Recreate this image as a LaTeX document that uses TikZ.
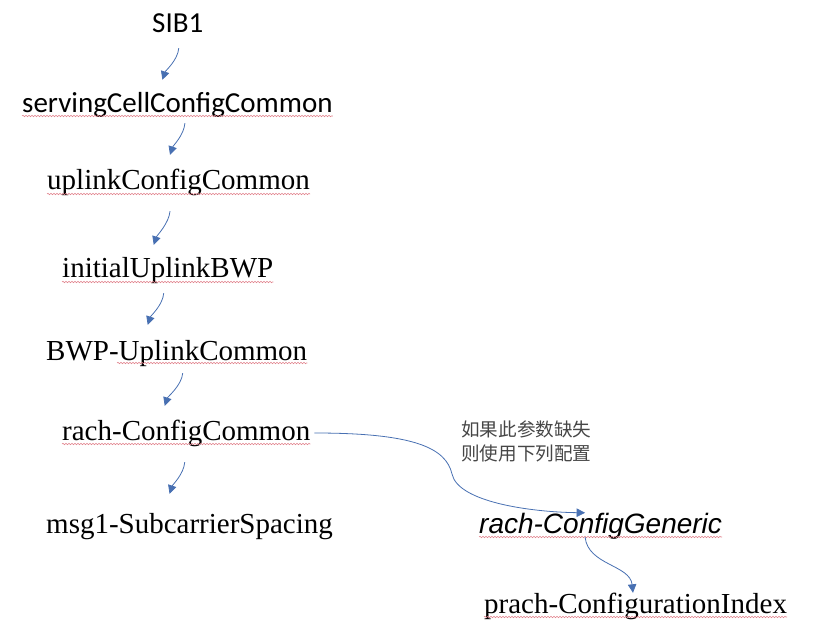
\documentclass[tikz,border=0pt]{standalone}
\usepackage{fontspec}
\setmainfont{Liberation Serif}
\newfontfamily\calibrifont{Carlito}
\newfontfamily\arialfont{Liberation Sans}
\newfontfamily\cjkfont{Noto Sans CJK SC}
\usepackage{tikz}
\usetikzlibrary{arrows.meta,calc,decorations.pathmorphing}
\definecolor{arrowblue}{RGB}{72,112,178}
\definecolor{spellred}{RGB}{225,130,140}
\definecolor{notegray}{RGB}{70,70,70}
\tikzset{
  fieldtext/.style={
    inner sep=0pt,anchor=base west,text height=20pt,text depth=6pt,
    font=\fontsize{29}{34}\selectfont
  },
  sibtext/.style={fieldtext,font=\calibrifont\fontsize{29}{34}\selectfont},
  generictext/.style={fieldtext,font=\arialfont\itshape\fontsize{28}{34}\selectfont},
  cjknote/.style={inner sep=0pt,anchor=north west,align=left,text=notegray,
    font=\cjkfont\fontsize{18.6}{24}\selectfont},
  linkarrow/.style={-{Triangle[length=8.5pt,width=8.5pt]},line width=0.8pt,draw=arrowblue},
  spellline/.style={draw=spellred,line width=0.6pt,decorate,
    decoration={snake,amplitude=0.7pt,segment length=3pt}}
}
\begin{document}
\begin{tikzpicture}[x=1pt,y=-1pt]
  \useasboundingbox (0,0) rectangle (828,639);
  % left column
  \node[sibtext] (sib) at (152,33) {SIB1};
  \node[sibtext] (serv) at (22,113) {servingCellConfigCommon};
  \node[fieldtext] (uplink) at (47,190) {uplinkConfigCommon};
  \node[fieldtext] (initbwp) at (62,278) {initialUplinkBWP};
  \node[fieldtext] (bwpcommon) at (46,360) {BWP-UplinkCommon};
  \node[fieldtext] (rachcommon) at (62,440) {rach-ConfigCommon};
  \node[fieldtext] (msgscs) at (46,533) {msg1-SubcarrierSpacing};
  % right side
  \node[cjknote] (note) at (461,421) {如果此参数缺失\\则使用下列配置};
  \node[generictext] (rachgeneric) at (479,533) {rach-ConfigGeneric};
  \node[fieldtext] (prachidx) at (484,613) {prach-ConfigurationIndex};

  % spell-check underlines
  \draw[spellline] ([yshift=-3pt]serv.base west) -- ([yshift=-3pt]serv.base east);
  \draw[spellline] ([yshift=-4pt]uplink.base west) -- ([yshift=-4pt]uplink.base east);
  \draw[spellline] ([yshift=-4pt]initbwp.base west) -- ([yshift=-4pt]initbwp.base east);
  \draw[spellline] ([xshift=71pt,yshift=-3pt]bwpcommon.base west) -- ([yshift=-3pt]bwpcommon.base east);
  \draw[spellline] ([yshift=-4pt]rachcommon.base west) -- ([yshift=-4pt]rachcommon.base east);
  \draw[spellline] ([yshift=-4pt]rachgeneric.base west) -- ([yshift=-4pt]rachgeneric.base east);
  \draw[spellline] ([yshift=-4pt]prachidx.base west) -- ([yshift=-4pt]prachidx.base east);

  % chain arrows
  \draw[linkarrow] ([xshift=1pt,yshift=-9pt]sib.south)
    .. controls +(-1,12) and +(3,-9) .. ([xshift=-15pt,yshift=13pt]serv.north);
  \draw[linkarrow] ([xshift=7.5pt,yshift=-4pt]serv.south)
    .. controls +(-1,12) and +(3,-9) .. ([xshift=-8.5pt,yshift=15pt]uplink.north);
  \draw[linkarrow] ([xshift=-8.5pt,yshift=-15pt]uplink.south)
    .. controls +(-1,12) and +(3,-9) .. ([xshift=-14pt,yshift=13pt]initbwp.north);
  \draw[linkarrow] ([xshift=-4pt,yshift=-9pt]initbwp.south)
    .. controls +(-1,12) and +(3,-9) .. ([xshift=-29pt,yshift=15pt]bwpcommon.north);
  \draw[linkarrow] ([xshift=6pt,yshift=-7pt]bwpcommon.south)
    .. controls +(-1,12) and +(3,-9) .. ([xshift=-21.5pt,yshift=14pt]rachcommon.north);
  \draw[linkarrow] ([xshift=-1.5pt,yshift=-16pt]rachcommon.south)
    .. controls +(-1,12) and +(3,-9) .. ([xshift=-20pt,yshift=19pt]msgscs.north);

  % fallback arrows
  \draw[linkarrow] ([xshift=4pt]rachcommon.east)
    .. controls +(100,0) and (446,448) .. (452,474)
    .. controls (458,502) and (530,512) .. ([xshift=-15.5pt]rachgeneric.north);
  \draw[linkarrow] ([xshift=-15.5pt,yshift=2pt]rachgeneric.south)
    .. controls +(3,28) and +(-3,-28) .. ([xshift=149pt]prachidx.north west);
\end{tikzpicture}
\end{document}
